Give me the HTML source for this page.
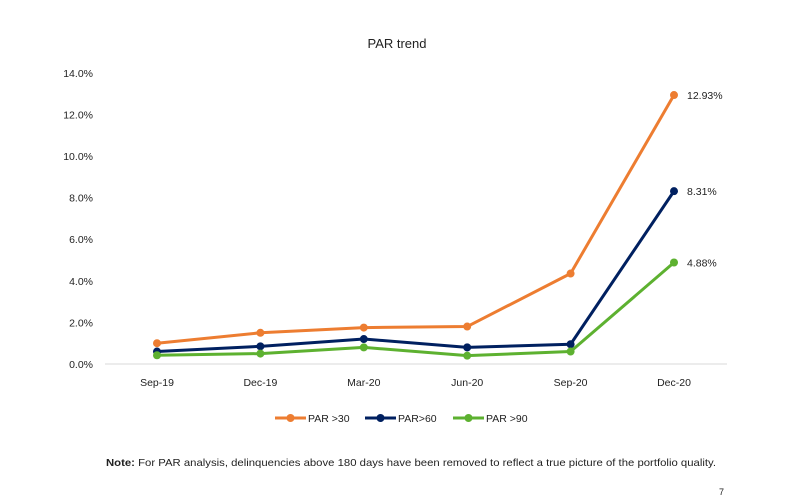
<!DOCTYPE html>
<html><head><meta charset="utf-8"><style>
body{margin:0;background:#fff;font-family:"Liberation Sans",sans-serif;}
svg text{font-family:"Liberation Sans",sans-serif;fill:#222;}
</style></head><body>
<svg id="chart" width="794" height="496">
<text x="397" y="48" font-size="13" text-anchor="middle">PAR trend</text>
<g id="yaxis"></g>
<line x1="105" y1="364" x2="727" y2="364" stroke="#d9d9d9" stroke-width="1"/>
<g id="xaxis"></g>
<g id="series"></g>
<g id="legend"></g>
<text x="106" y="466" font-size="10.5" textLength="610" lengthAdjust="spacingAndGlyphs"><tspan font-weight="bold">Note:</tspan> For PAR analysis, delinquencies above 180 days have been removed to reflect a true picture of the portfolio quality.</text>
<text x="719" y="495" font-size="9" fill="#888">7</text>
</svg>
<script>
const categories=["Sep-19","Dec-19","Mar-20","Jun-20","Sep-20","Dec-20"];
const par30=[1.0,1.5,1.75,1.8,4.35,12.93];
const par60=[0.6,0.85,1.2,0.8,0.95,8.31];
const par90=[0.42,0.5,0.8,0.4,0.6,4.88];
const yTicks=[0,2,4,6,8,10,12,14];
const seriesNames=["PAR >30","PAR>60","PAR >90"];
const NS="http://www.w3.org/2000/svg";
const colors=["#ed7d31","#002060","#5db130"];
const x=i=>157+i*103.4;
const y=v=>364-v*20.8;
function mk(t,a,p){const e=document.createElementNS(NS,t);for(const k in a)e.setAttribute(k,a[k]);p.appendChild(e);return e;}
const ya=document.getElementById('yaxis');
yTicks.forEach(t=>{const e=mk('text',{x:93,y:y(t)+4,'font-size':10.5,'text-anchor':'end'},ya);e.textContent=t.toFixed(1)+'%';

});
const xa=document.getElementById('xaxis');
categories.forEach((c,i)=>{const e=mk('text',{x:x(i),y:386,'font-size':10.5,'text-anchor':'middle'},xa);e.textContent=c;

});
const sg=document.getElementById('series');
[par30,par60,par90].forEach((d,s)=>{
const g=mk('g',{},sg);


const pl=mk('polyline',{points:d.map((v,i)=>x(i)+','+y(v)).join(' '),fill:'none',stroke:colors[s],'stroke-width':3,'stroke-linejoin':'round'},g);


d.forEach((v,i)=>{const c=mk('circle',{cx:x(i),cy:y(v),r:4,fill:colors[s]},g);

});
const l=mk('text',{x:x(5)+13,y:y(d[5])+4,'font-size':10.5},g);l.textContent=d[5].toFixed(2)+'%';


});
const lg=document.getElementById('legend');
const lx=[275,365,453];
seriesNames.forEach((n,s)=>{
const g=mk('g',{},lg);


mk('line',{x1:lx[s],y1:418,x2:lx[s]+31,y2:418,stroke:colors[s],'stroke-width':3},g);
mk('circle',{cx:lx[s]+15.5,cy:418,r:4,fill:colors[s]},g);
const t=mk('text',{x:lx[s]+33,y:422,'font-size':10.5},g);t.textContent=n;
});
</script>
</body></html>
